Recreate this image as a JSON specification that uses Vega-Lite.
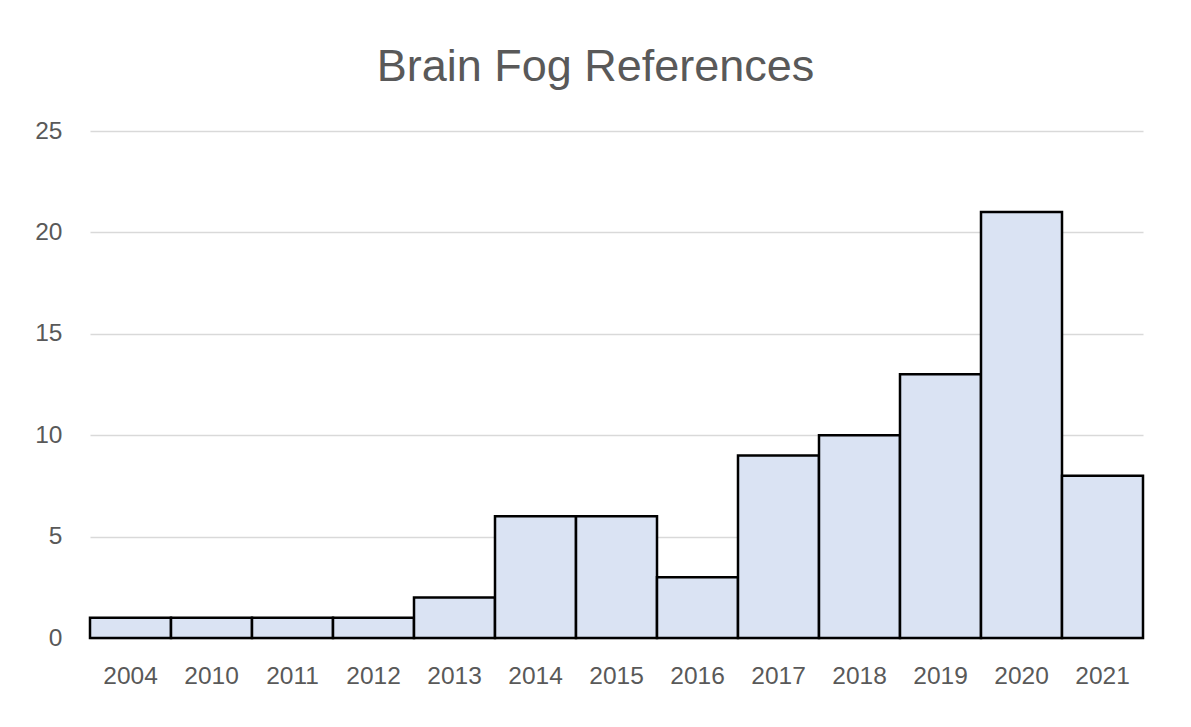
{
  "$schema": "https://vega.github.io/schema/vega-lite/v6.json",
  "autosize": "none",
  "width": 1053,
  "height": 507,
  "padding": {"left": 90, "top": 131, "right": 48, "bottom": 89},
  "background": "white",
  "title": {
    "text": "Brain Fog References",
    "font": "Liberation Sans",
    "fontSize": 45,
    "fontWeight": "normal",
    "color": "#595959",
    "anchor": "middle",
    "dx": -21,
    "offset": 28
  },
  "data": {
    "values": [
      {"year": "2004", "count": 1},
      {"year": "2010", "count": 1},
      {"year": "2011", "count": 1},
      {"year": "2012", "count": 1},
      {"year": "2013", "count": 2},
      {"year": "2014", "count": 6},
      {"year": "2015", "count": 6},
      {"year": "2016", "count": 3},
      {"year": "2017", "count": 9},
      {"year": "2018", "count": 10},
      {"year": "2019", "count": 13},
      {"year": "2020", "count": 21},
      {"year": "2021", "count": 8}
    ]
  },
  "mark": {"type": "bar", "fill": "#DAE3F3", "stroke": "black", "strokeWidth": 2.5},
  "encoding": {
    "x": {
      "field": "year",
      "type": "ordinal",
      "sort": null,
      "title": null,
      "scale": {"paddingInner": 0, "paddingOuter": 0},
      "axis": {
        "labelAngle": 0,
        "labelFont": "Liberation Sans",
        "labelFontSize": 24.5,
        "labelColor": "#595959",
        "labelPadding": 26,
        "ticks": false,
        "domainColor": "#d9d9d9",
        "domainWidth": 1.5
      }
    },
    "y": {
      "field": "count",
      "type": "quantitative",
      "title": null,
      "scale": {"domain": [0, 25]},
      "axis": {
        "values": [0, 5, 10, 15, 20, 25],
        "labelFont": "Liberation Sans",
        "labelFontSize": 24.5,
        "labelColor": "#595959",
        "labelPadding": 28,
        "ticks": false,
        "domain": false,
        "gridColor": "#d9d9d9",
        "gridWidth": 1.5
      }
    }
  },
  "config": {"view": {"stroke": null}}
}
